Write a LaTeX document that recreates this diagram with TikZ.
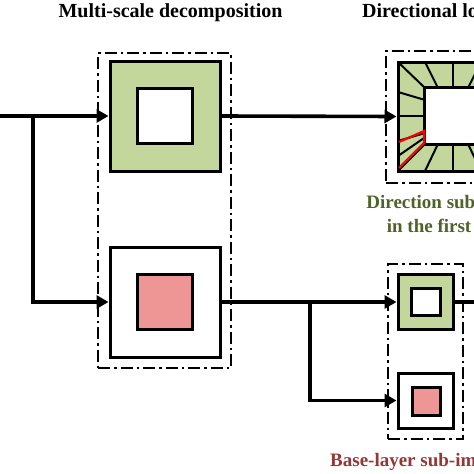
\documentclass[tikz,border=0pt]{standalone}
\usepackage{fontspec}
\setmainfont{Liberation Serif}
\usetikzlibrary{arrows.meta}

\definecolor{leafgreen}{RGB}{195,214,155}
\definecolor{rosered}{RGB}{238,150,150}
\definecolor{olivetext}{RGB}{79,98,40}
\definecolor{bricktext}{RGB}{149,55,53}

\tikzset{
    boxline/.style={draw, line width=3pt, inner sep=0pt},
    group/.style={draw, line width=2.2pt, inner sep=0pt, dash pattern=on 12pt off 4pt on 2.5pt off 4pt},
    flow/.style={line width=3.6pt, -{Triangle[length=12pt, width=13pt]}},
    link/.style={line width=3.6pt},
    spoke/.style={line width=2pt},
    heading/.style={font=\bfseries\fontsize{20}{24}\selectfont, inner sep=0pt},
    sublabel/.style={font=\bfseries\fontsize{19}{24}\selectfont, inner sep=0pt}
}

\begin{document}
\begin{tikzpicture}[x=1pt, y=-1pt]
    \useasboundingbox (0,0) rectangle (474,474);
    \clip (0,0) rectangle (474,474);
    % Titles
    \node[heading, anchor=base] (decomp) at (170.5,17) {Multi-scale decomposition};
    \node[heading, anchor=base west] (localtitle) at (362,17) {Directional localization};
    % Dash-dot groups
    \node[group, minimum width=133pt, minimum height=315pt] (grp1) at (164.5,210.5) {};
    \node[group, minimum width=134pt, minimum height=132pt] (grp2) at (453,117) {};
    \node[group, minimum width=75pt, minimum height=175pt] (grp3) at (425.5,351.5) {};
    % Multi-scale decomposition
    \node[boxline, fill=leafgreen, minimum size=110pt] (detail) at (165,116) {};
    \node[boxline, fill=white, minimum size=55pt] (detailin) at (165,116) {};
    \node[boxline, fill=white, minimum size=110pt] (base) at (165,302) {};
    \node[boxline, fill=rosered, minimum size=55pt] (basein) at (165,302) {};
    % Directional localization
    \node[boxline, fill=leafgreen, minimum width=110pt, minimum height=109pt] (direc) at (453,116.5) {};
    \node[draw=none, fill=white, minimum width=56pt, minimum height=56pt, inner sep=0pt] (direcin) at (453,116) {};
    \foreach \a/\b/\c/\d in {398/62/425/88, 425/62/438/88, 453/62/453/88,
                             398/92/425/100, 398/116/425/116, 398/141/425/133,
                             398/171/425/144, 425/171/438/144, 453/171/453/144}
    {
        \draw[spoke] (\a,\b) -- (\c,\d);
        \draw[spoke] ({906-\a},\b) -- ({906-\c},\d);
    }
    \draw[line width=3pt] (direcin.north west) rectangle (direcin.south east);
    \draw[spoke] (398,156) -- (424,138);
    \draw[red, line width=2.2pt] (399,142) -- (424,131) -- (424,143) -- (399,168);
    % Second layer
    \node[boxline, fill=leafgreen, minimum size=55pt] (sdetail) at (425.5,302) {};
    \node[boxline, fill=white, minimum width=29pt, minimum height=27pt] (sdetailin) at (425.5,302) {};
    \node[boxline, fill=white, minimum size=55pt] (sbase) at (425.5,400.5) {};
    \node[boxline, fill=rosered, minimum size=28pt] (sbasein) at (426,401.5) {};
    % Connectors
    \coordinate (in) at (0,116);
    \coordinate (split1) at (33,116);
    \coordinate (split2) at (310,302);
    \coordinate (out) at (480,302);
    \draw[flow] (in) -- (detail.west);
    \draw[flow] (split1) |- (base.west);
    \draw[flow] (detail.east) -- (direc.west);
    \draw[flow] (base.east) -- (sdetail.west);
    \draw[flow] (split2) |- (sbase.west);
    \draw[link] (sdetail.east) -- (out);
    % Labels
    \node[sublabel, text=olivetext, align=center, anchor=base] (dirnote) at (452,232) {Direction sub-images\\in the first layer};
    \node[sublabel, text=bricktext, anchor=base west] (basenote) at (330,466) {Base-layer sub-images};
\end{tikzpicture}
\end{document}
